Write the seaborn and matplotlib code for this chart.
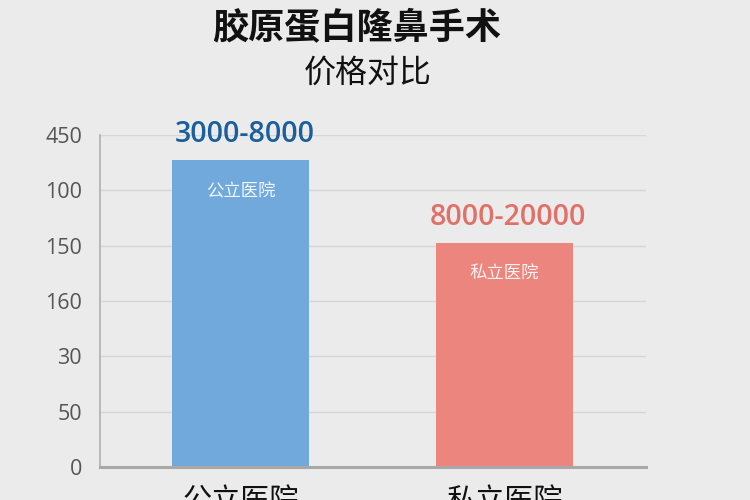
import matplotlib
matplotlib.use("Agg")
from matplotlib import pyplot as plt
import seaborn as sns
import pandas as pd

# chart data
categories = ["公立医院", "私立医院"]
heights = [277, 202]
price_ranges = ["3000-8000", "8000-20000"]
bar_colors = ["#72a9dc", "#ec857d"]
label_colors = ["#1b5e9c", "#e07068"]
ytick_values = [0, 50, 100, 150, 200, 250, 300]
ytick_labels = ["0", "50", "30", "160", "150", "100", "450"]
title = "胶原蛋白隆鼻手术"
subtitle = "价格对比"

bg = "#ebebeb"
sns.set_theme(style="white")
plt.rcParams["font.family"] = ["Noto Sans CJK SC", "DejaVu Sans"]

df = pd.DataFrame({"category": categories, "height": heights})

fig = plt.figure(figsize=(7.5, 5), dpi=100, facecolor=bg)
ax = fig.add_axes([0.1333, 0.066, 0.728, 0.664])
ax.set_facecolor(bg)

sns.barplot(data=df, x="category", y="height", hue="category",
            palette=bar_colors, width=0.52, saturation=1, legend=False,
            linewidth=0, edgecolor="none", ax=ax)

ax.set_ylim(0, 300)
ax.set_xlim(-0.535, 1.537)
ax.set_yticks(ytick_values)
ax.set_yticklabels(ytick_labels, fontsize=15.5, color="#555555",
                   family=["Open Sans", "DejaVu Sans"])
ax.yaxis.grid(True, color="#d6d6d6", linewidth=1)
ax.set_axisbelow(True)
ax.tick_params(axis="y", length=8, width=1.2, color="#b0b0b0", pad=5)

# category names as minor ticks under the bars, tick marks between groups
ax.set_xticks([0.5, 1.537])
ax.set_xticklabels(["", ""])
ax.set_xticks([0, 1], minor=True)
ax.set_xticklabels(categories, minor=True, fontsize=21, color="#111111")
ax.tick_params(axis="x", which="major", length=6, width=1.5, color="#a8a8a8")
ax.tick_params(axis="x", which="minor", length=0, pad=14)
ax.set_xlabel("")
ax.set_ylabel("")

for side in ["top", "right"]:
    ax.spines[side].set_visible(False)
ax.spines["left"].set_color("#b0b0b0")
ax.spines["left"].set_linewidth(1.2)
ax.spines["bottom"].set_color("#a8a8a8")
ax.spines["bottom"].set_linewidth(2.2)

for bar, cat, rng, col in zip(ax.patches, categories, price_ranges, label_colors):
    cx = bar.get_x() + bar.get_width() / 2
    top = bar.get_height()
    ax.annotate(rng, (cx + 0.015, top), xytext=(0, 18.5), textcoords="offset points",
                ha="center", va="center", fontsize=20.5, fontweight="semibold",
                color=col, family=["Open Sans", "DejaVu Sans"])
    ax.annotate(cat, (cx, top), xytext=(0, -22), textcoords="offset points",
                ha="center", va="center", fontsize=12.5, color="white", alpha=0.9)

fig.text(0.475, 0.945, title, ha="center", va="center", fontsize=26,
         fontweight="bold", color="#111111")
fig.text(0.49, 0.855, subtitle, ha="center", va="center", fontsize=23,
         color="#111111")

fig.savefig("out.png", dpi=100, facecolor=bg)
